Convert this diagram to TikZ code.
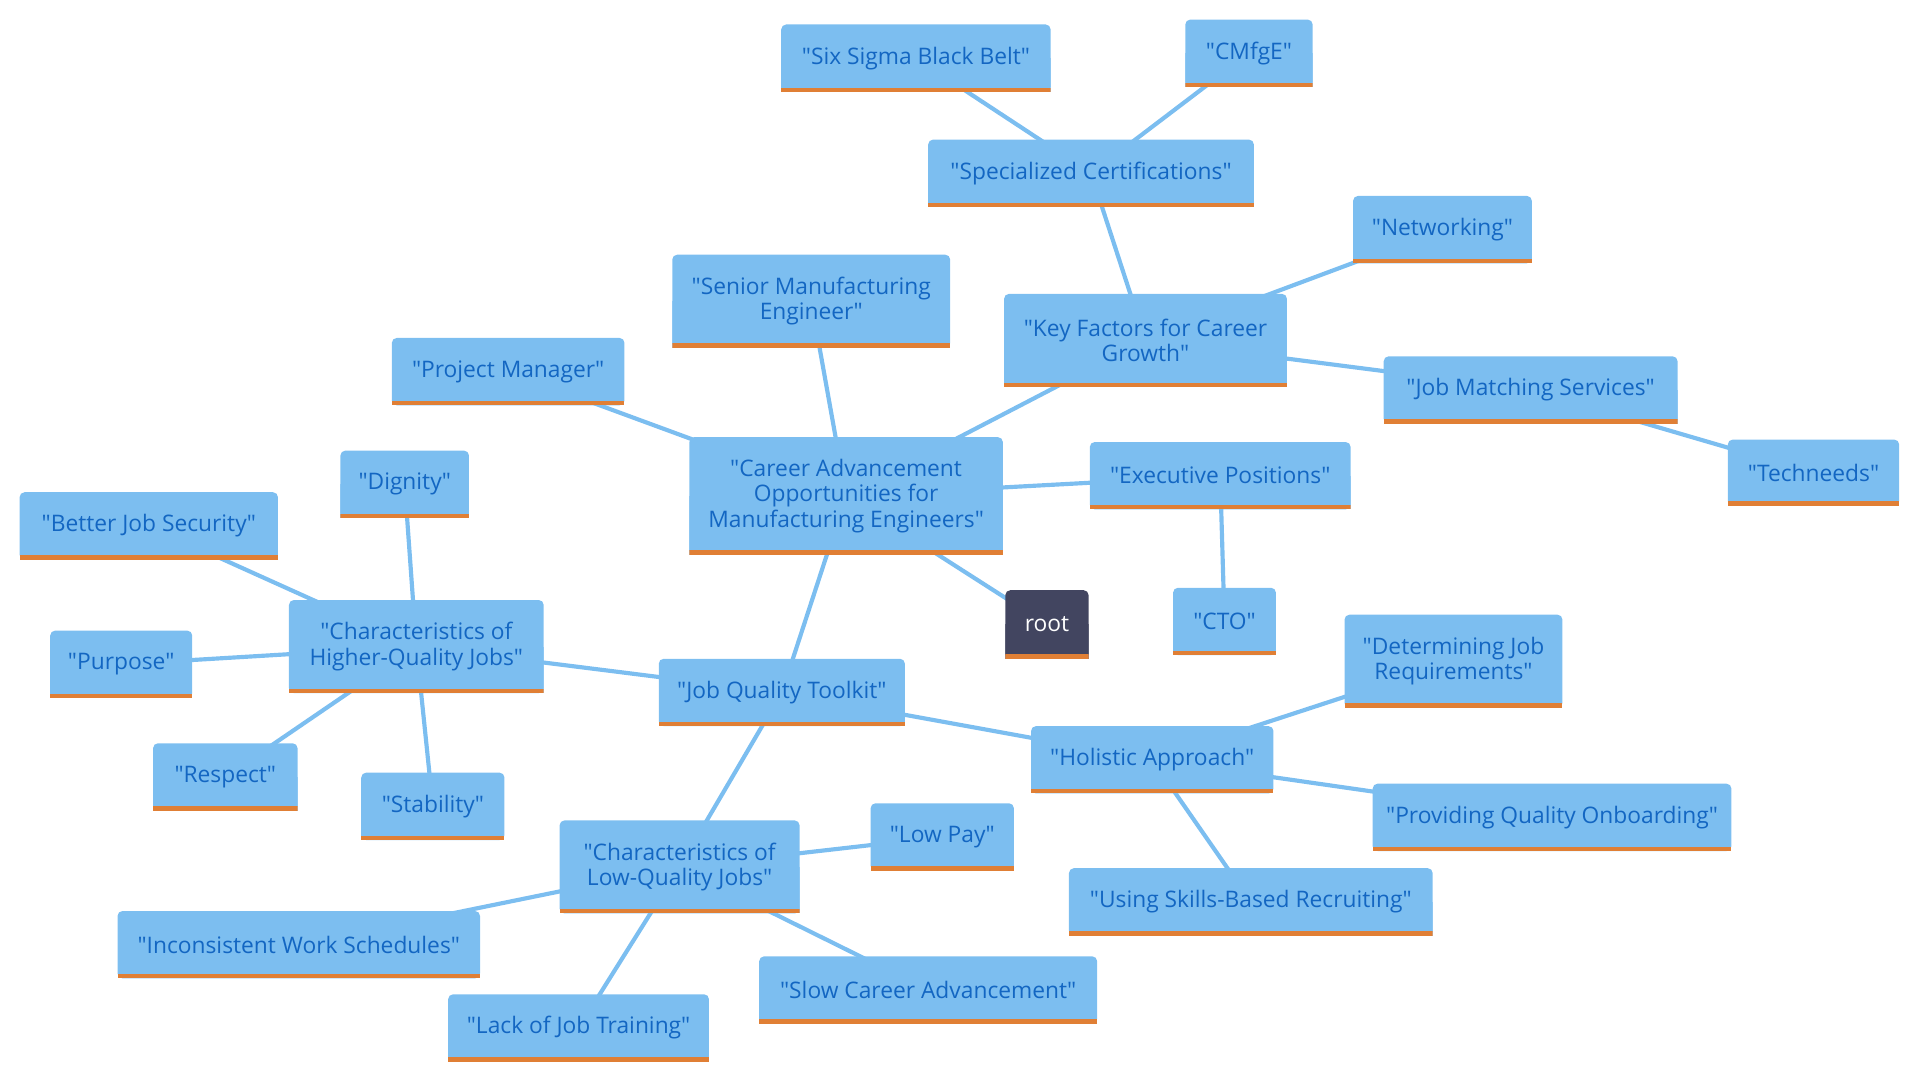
\documentclass[tikz,border=0pt]{standalone}
\usepackage{fontspec}
\setmainfont{Open Sans}
\usetikzlibrary{backgrounds}
\definecolor{boxblue}{HTML}{7CBEF0}
\definecolor{txtblue}{HTML}{1366C2}
\definecolor{barorange}{HTML}{E07F35}
\definecolor{rootfill}{HTML}{424560}
\newcommand{\qq}{\XeTeXglyph\XeTeXcharglyph"22\relax}
\tikzset{
  box/.style={rectangle, inner sep=0pt, text=txtblue, align=center,
    font=\fontsize{18.6}{20.8}\selectfont,
    path picture={
      \fill[#1, rounded corners=4pt] (path picture bounding box.south west) rectangle (path picture bounding box.north east);
      \fill[#1] (path picture bounding box.south west) rectangle (path picture bounding box.east);
      \fill[barorange] (path picture bounding box.south west) rectangle ([yshift=3.5pt]path picture bounding box.south east);
    }},
  box/.default=boxblue,
  edge/.style={draw=boxblue, line width=3.4pt}
}
\newcommand{\bx}[6]{\node[box, minimum width=#4pt, minimum height=#5pt] (#1) at (#2,#3) {#6};}
\begin{document}
\begin{tikzpicture}[x=1pt,y=-1pt]
\useasboundingbox (0,0) rectangle (1568,882);
\bx{six}{748}{47.5}{220}{55}{\qq Six Sigma Black Belt\qq}
\bx{cmfge}{1020}{43.5}{104}{55}{\qq CMfgE\qq}
\bx{spec}{891}{141.5}{266}{55}{\qq Specialized Certifications\qq}
\bx{netw}{1178}{187.5}{146}{55}{\qq Networking\qq}
\bx{senior}{662.5}{246}{227}{76}{\qq Senior Manufacturing\\Engineer\qq}
\bx{key}{935.5}{278}{231}{76}{\qq Key Factors for Career\\Growth\qq}
\bx{pm}{415}{303.5}{190}{55}{\qq Project Manager\qq}
\bx{jms}{1250}{318.5}{240}{55}{\qq Job Matching Services\qq}
\bx{tech}{1481}{386}{140}{54}{\qq Techneeds\qq}
\bx{ca}{691}{405}{256}{96}{\qq Career Advancement\\Opportunities for\\Manufacturing Engineers\qq}
\bx{exec}{996.5}{388.5}{213}{55}{\qq Executive Positions\qq}
\bx{dignity}{330.5}{395.5}{105}{55}{\qq Dignity\qq}
\bx{better}{121.5}{429.5}{211}{55}{\qq Better Job Security\qq}
\node[box=rootfill, text=white, minimum width=68pt, minimum height=56pt] (root) at (855,510) {root};
\bx{cto}{1000}{507.5}{84}{55}{\qq CTO\qq}
\bx{higher}{340}{528}{208}{76}{\qq Characteristics of\\Higher-Quality Jobs\qq}
\bx{purpose}{99}{542.5}{116}{55}{\qq Purpose\qq}
\bx{determ}{1187}{540}{178}{76}{\qq Determining Job\\Requirements\qq}
\bx{jqt}{638.5}{565.5}{201}{55}{\qq Job Quality Toolkit\qq}
\bx{holistic}{941}{620.5}{198}{55}{\qq Holistic Approach\qq}
\bx{respect}{184}{634.5}{118}{55}{\qq Respect\qq}
\bx{stability}{353.5}{658.5}{117}{55}{\qq Stability\qq}
\bx{onboard}{1267.5}{667.5}{293}{55}{\qq Providing Quality Onboarding\qq}
\bx{lowpay}{769.5}{683.5}{117}{55}{\qq Low Pay\qq}
\bx{lowq}{555}{708}{196}{76}{\qq Characteristics of\\Low-Quality Jobs\qq}
\bx{skills}{1021.5}{736.5}{297}{55}{\qq Using Skills-Based Recruiting\qq}
\bx{incons}{244}{771.5}{296}{55}{\qq Inconsistent Work Schedules\qq}
\bx{slow}{758}{808.5}{276}{55}{\qq Slow Career Advancement\qq}
\bx{lack}{472.5}{839.5}{213}{55}{\qq Lack of Job Training\qq}
\begin{scope}[on background layer]
\foreach \a/\b in {ca/root, ca/pm, ca/senior, ca/key, ca/exec, ca/jqt,
  key/spec, key/netw, key/jms, spec/six, spec/cmfge, jms/tech, exec/cto,
  jqt/higher, jqt/holistic, jqt/lowq,
  higher/dignity, higher/better, higher/purpose, higher/respect, higher/stability,
  holistic/determ, holistic/onboard, holistic/skills,
  lowq/lowpay, lowq/incons, lowq/slow, lowq/lack}
  \draw[edge] (\a.center) -- (\b.center);
\end{scope}
\end{tikzpicture}
\end{document}
